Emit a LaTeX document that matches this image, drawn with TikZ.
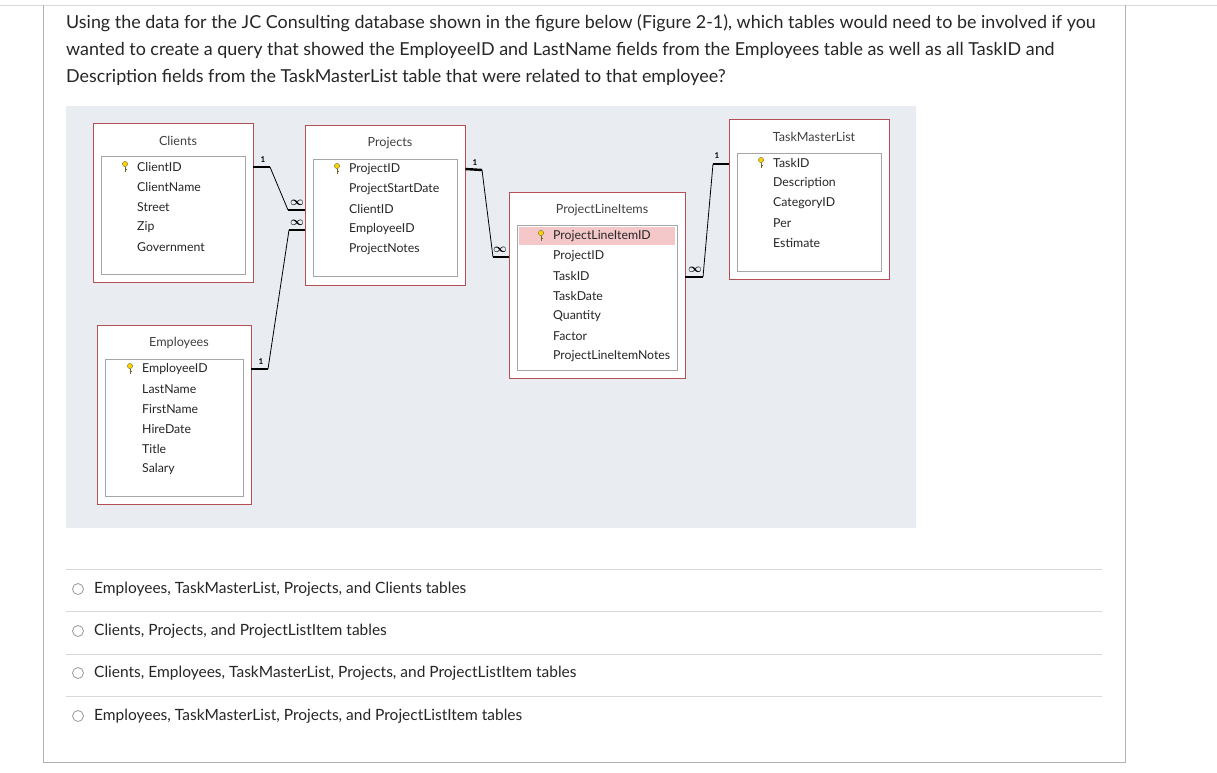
\documentclass[tikz,border=0pt]{standalone}
\usepackage{fontspec}
\setmainfont{Lato}
\definecolor{diagbg}{RGB}{233,236,240}
\definecolor{pinkrow}{RGB}{244,199,201}
\definecolor{tblred}{RGB}{180,80,85}
\begin{document}
\begin{tikzpicture}[x=1pt,y=-1pt,
  outerbox/.style={draw=tblred, fill=white, line width=0.8pt, inner sep=0},
  innerbox/.style={draw=gray!70, fill=white, line width=0.8pt, inner sep=0},
  ttl/.style={font=\fontsize{12.6}{14}\selectfont, text=black!75, anchor=center},
  fld/.style={font=\fontsize{12.3}{14}\selectfont, text=black!85, anchor=west, inner sep=0},
  thk/.style={line width=2.4pt},
  thn/.style={line width=0.8pt},
  lbl/.style={font=\bfseries\fontsize{8}{9}\selectfont, inner sep=0},
  inf/.style={font=\boldmath\fontsize{13}{13}\selectfont, inner sep=0},
  q/.style={font=\fontsize{17.9}{20}\selectfont, text=black!85, anchor=west, inner sep=0},
  ans/.style={font=\fontsize{15.5}{18}\selectfont, text=black!85, anchor=west, inner sep=0},
  radio/.style={draw=gray!80, line width=0.8pt, circle, minimum size=11pt, inner sep=0},
  sep/.style={draw=gray!30, line width=0.8pt}
]
\useasboundingbox (0,0) rectangle (1217,772);
\fill[white] (0,0) rectangle (1217,772);
\draw[gray!30, line width=0.8pt] (0,5) -- (1217,5);
\draw[gray!60, line width=0.8pt] (43,5) -- (43,762) -- (1125,762) -- (1125,5);

\node[q] (q1) at (66,23) {Using the data for the JC Consulting database shown in the figure below (Figure 2-1), which tables would need to be involved if you};
\node[q] (q2) at (66,50) {wanted to create a query that showed the EmployeeID and LastName fields from the Employees table as well as all TaskID and};
\node[q] (q3) at (66,77) {Description fields from the TaskMasterList table that were related to that employee?};

\fill[diagbg] (66,106) rectangle (916,528);

\newcommand{\keyicon}[2]{%
  \fill[yellow!70!orange, draw=olive!70!black, line width=0.4pt] (#1,#2-3) circle (2.6);
  \draw[olive!70!black, line width=1pt] (#1,#2-0.5) -- (#1,#2+5);
  \draw[olive!70!black, line width=0.8pt] (#1,#2+2.5) -- (#1+2,#2+2.5);}

% Clients
\node[outerbox, minimum width=160pt, minimum height=159pt] (clients) at (173,202.5) {};
\node[innerbox, minimum width=144pt, minimum height=118pt] (clientsin) at (173,215) {};
\node[ttl] (clientst) at (178,141) {Clients};
\keyicon{125}{167}
\node[fld] (c1) at (137,167) {ClientID};
\node[fld] (c2) at (137,187) {ClientName};
\node[fld] (c3) at (137,207) {Street};
\node[fld] (c4) at (137,227) {Zip};
\node[fld] (c5) at (137,247) {Government};

% Projects
\node[outerbox, minimum width=160pt, minimum height=160pt] (projects) at (385,205) {};
\node[innerbox, minimum width=144pt, minimum height=117pt] (projectsin) at (385,217.5) {};
\node[ttl] (projectst) at (390,143) {Projects};
\keyicon{337}{169}
\node[fld] (p1) at (349,169) {ProjectID};
\node[fld] (p2) at (349,189) {ProjectStartDate};
\node[fld] (p3) at (349,209) {ClientID};
\node[fld] (p4) at (349,229) {EmployeeID};
\node[fld] (p5) at (349,249) {ProjectNotes};

% Employees
\node[outerbox, minimum width=154pt, minimum height=179pt] (emp) at (174,414.5) {};
\node[innerbox, minimum width=138pt, minimum height=137pt] (empin) at (174,427.5) {};
\node[ttl] (empt) at (179,343) {Employees};
\keyicon{130}{369}
\node[fld] (e1) at (142,369) {EmployeeID};
\node[fld] (e2) at (142,389) {LastName};
\node[fld] (e3) at (142,409) {FirstName};
\node[fld] (e4) at (142,429) {HireDate};
\node[fld] (e5) at (142,449) {Title};
\node[fld] (e6) at (142,469) {Salary};

% ProjectLineItems
\node[outerbox, minimum width=176pt, minimum height=186pt] (pli) at (597,285) {};
\node[innerbox, minimum width=160pt, minimum height=145pt] (pliin) at (597,297.5) {};
\fill[pinkrow] (519,227) rectangle (675,245);
\node[ttl] (plit) at (602,210) {ProjectLineItems};
\keyicon{541}{236}
\node[fld] (l1) at (553,236) {ProjectLineItemID};
\node[fld] (l2) at (553,256) {ProjectID};
\node[fld] (l3) at (553,276) {TaskID};
\node[fld] (l4) at (553,296) {TaskDate};
\node[fld] (l5) at (553,316) {Quantity};
\node[fld] (l6) at (553,336) {Factor};
\node[fld] (l7) at (553,356) {ProjectLineItemNotes};

% TaskMasterList
\node[outerbox, minimum width=160pt, minimum height=160pt] (tml) at (809,199) {};
\node[innerbox, minimum width=144pt, minimum height=118pt] (tmlin) at (809,212) {};
\node[ttl] (tmlt) at (814,137) {TaskMasterList};
\keyicon{761}{163}
\node[fld] (t1) at (773,163) {TaskID};
\node[fld] (t2) at (773,183) {Description};
\node[fld] (t3) at (773,203) {CategoryID};
\node[fld] (t4) at (773,223) {Per};
\node[fld] (t5) at (773,243) {Estimate};

% connection points
\coordinate (a0) at (clients.east |- c1);
\coordinate (a1) at (270,167);
\coordinate (a2) at (288,210);
\coordinate (a3) at (projects.west |- a2);
\coordinate (b0) at (emp.east |- e1);
\coordinate (b1) at (268,369);
\coordinate (b2) at (289,230);
\coordinate (b3) at (projects.west |- b2);
\coordinate (d0) at (projects.east |- p1);
\coordinate (d1) at (482,170);
\coordinate (d2) at (493,257);
\coordinate (d3) at (pli.west |- d2);
\coordinate (f0) at (pli.east |- 0,277);
\coordinate (f1) at (703,277);
\coordinate (f2) at (713,164);
\coordinate (f3) at (tml.west |- f2);

\draw[thk] (a0) -- (a1); \draw[thn] (a1) -- (a2); \draw[thk] (a2) -- (a3);
\draw[thk] (b0) -- (b1); \draw[thn] (b1) -- (b2); \draw[thk] (b2) -- (b3);
\draw[thk] (d0) -- (d1); \draw[thn] (d1) -- (d2); \draw[thk] (d2) -- (d3);
\draw[thk] (f0) -- (f1); \draw[thn] (f1) -- (f2); \draw[thk] (f2) -- (f3);

\node[lbl] (n1) at (263,160) {1};
\node[inf] (n2) at (297,203) {$\infty$};
\node[inf] (n3) at (297,223) {$\infty$};
\node[lbl] (n4) at (261,362) {1};
\node[lbl] (n5) at (475,163) {1};
\node[inf] (n6) at (500,250) {$\infty$};
\node[inf] (n7) at (695,270) {$\infty$};
\node[lbl] (n8) at (717,156) {1};

% answers
\draw[sep] (66,569) -- (1102,569);
\draw[sep] (66,611) -- (1102,611);
\draw[sep] (66,654) -- (1102,654);
\draw[sep] (66,696) -- (1102,696);
\node[radio] (r1) at (78,589) {};
\node[radio] (r2) at (78,631) {};
\node[radio] (r3) at (78,673) {};
\node[radio] (r4) at (78,716) {};
\node[ans] (s1) at (94,589) {Employees, TaskMasterList, Projects, and Clients tables};
\node[ans] (s2) at (94,631) {Clients, Projects, and ProjectListItem tables};
\node[ans] (s3) at (94,673) {Clients, Employees, TaskMasterList, Projects, and ProjectListItem tables};
\node[ans] (s4) at (94,716) {Employees, TaskMasterList, Projects, and ProjectListItem tables};
\end{tikzpicture}
\end{document}
